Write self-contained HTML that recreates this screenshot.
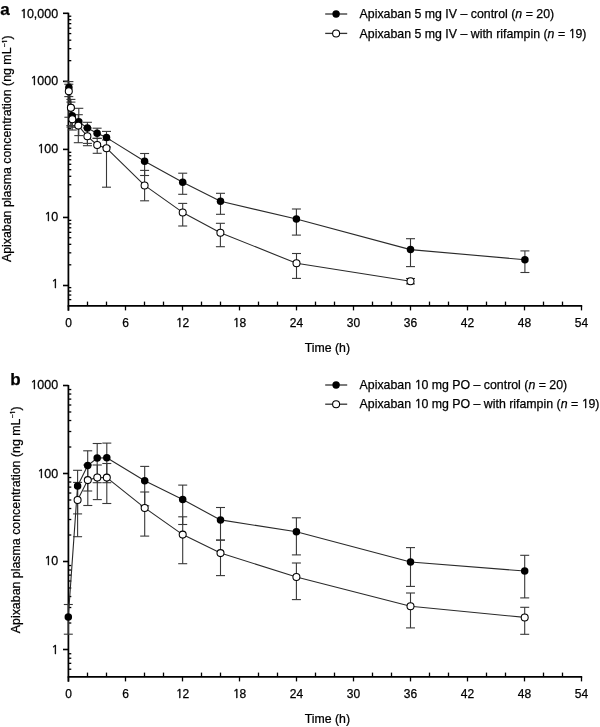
<!DOCTYPE html><html><head><meta charset="utf-8"><title>Apixaban plasma concentration</title><style>html,body{margin:0;padding:0;background:#fff}svg{display:block}</style></head><body><svg width="600" height="727" viewBox="0 0 600 727">
<style>.ax{stroke:#000;stroke-width:1.75;fill:none}.tk{stroke:#000;stroke-width:1.3;fill:none}.mj{stroke-width:1.6}.eb{stroke:#383838;stroke-width:1.1;fill:none}.ln{stroke:#2a2a2a;stroke-width:1.1;fill:none;stroke-linejoin:round}.lg{stroke:#333;stroke-width:1.3;fill:none}.mf{fill:#000;stroke:none}.mo{fill:#fff;stroke:#000;stroke-width:1.05}text{font-family:'Liberation Sans',Arial,sans-serif;fill:#000;stroke:#000;stroke-width:0.25px}.tl{font-size:12px}.lt{font-size:12.35px}.yt{font-size:12.38px}.pl{font-size:17px;font-weight:bold}.one{font-family:NanumGothic,'Liberation Sans',sans-serif;stroke-width:0.45px}</style>
<rect width="600" height="727" fill="#fff"/>
<line x1="68.4" y1="12.80" x2="68.4" y2="310.80" class="ax"/>
<line x1="67.7" y1="305.8" x2="582.20" y2="305.8" class="ax"/>
<line x1="63.0" y1="285.50" x2="68.4" y2="285.50" class="tk mj"/>
<line x1="63.0" y1="217.45" x2="68.4" y2="217.45" class="tk mj"/>
<line x1="63.0" y1="149.40" x2="68.4" y2="149.40" class="tk mj"/>
<line x1="63.0" y1="81.35" x2="68.4" y2="81.35" class="tk mj"/>
<line x1="63.0" y1="13.30" x2="68.4" y2="13.30" class="tk mj"/>
<line x1="68.4" y1="299.60" x2="71.3" y2="299.60" class="tk"/>
<line x1="68.4" y1="295.04" x2="71.3" y2="295.04" class="tk"/>
<line x1="68.4" y1="291.09" x2="71.3" y2="291.09" class="tk"/>
<line x1="68.4" y1="287.61" x2="71.3" y2="287.61" class="tk"/>
<line x1="68.4" y1="264.81" x2="71.3" y2="264.81" class="tk"/>
<line x1="68.4" y1="252.83" x2="71.3" y2="252.83" class="tk"/>
<line x1="68.4" y1="244.33" x2="71.3" y2="244.33" class="tk"/>
<line x1="68.4" y1="237.74" x2="71.3" y2="237.74" class="tk"/>
<line x1="68.4" y1="232.35" x2="71.3" y2="232.35" class="tk"/>
<line x1="68.4" y1="227.79" x2="71.3" y2="227.79" class="tk"/>
<line x1="68.4" y1="223.84" x2="71.3" y2="223.84" class="tk"/>
<line x1="68.4" y1="220.36" x2="71.3" y2="220.36" class="tk"/>
<line x1="68.4" y1="196.76" x2="71.3" y2="196.76" class="tk"/>
<line x1="68.4" y1="184.78" x2="71.3" y2="184.78" class="tk"/>
<line x1="68.4" y1="176.28" x2="71.3" y2="176.28" class="tk"/>
<line x1="68.4" y1="169.69" x2="71.3" y2="169.69" class="tk"/>
<line x1="68.4" y1="164.30" x2="71.3" y2="164.30" class="tk"/>
<line x1="68.4" y1="159.74" x2="71.3" y2="159.74" class="tk"/>
<line x1="68.4" y1="155.79" x2="71.3" y2="155.79" class="tk"/>
<line x1="68.4" y1="152.31" x2="71.3" y2="152.31" class="tk"/>
<line x1="68.4" y1="128.71" x2="71.3" y2="128.71" class="tk"/>
<line x1="68.4" y1="116.73" x2="71.3" y2="116.73" class="tk"/>
<line x1="68.4" y1="108.23" x2="71.3" y2="108.23" class="tk"/>
<line x1="68.4" y1="101.64" x2="71.3" y2="101.64" class="tk"/>
<line x1="68.4" y1="96.25" x2="71.3" y2="96.25" class="tk"/>
<line x1="68.4" y1="91.69" x2="71.3" y2="91.69" class="tk"/>
<line x1="68.4" y1="87.74" x2="71.3" y2="87.74" class="tk"/>
<line x1="68.4" y1="84.26" x2="71.3" y2="84.26" class="tk"/>
<line x1="68.4" y1="60.66" x2="71.3" y2="60.66" class="tk"/>
<line x1="68.4" y1="48.68" x2="71.3" y2="48.68" class="tk"/>
<line x1="68.4" y1="40.18" x2="71.3" y2="40.18" class="tk"/>
<line x1="68.4" y1="33.59" x2="71.3" y2="33.59" class="tk"/>
<line x1="68.4" y1="28.20" x2="71.3" y2="28.20" class="tk"/>
<line x1="68.4" y1="23.64" x2="71.3" y2="23.64" class="tk"/>
<line x1="68.4" y1="19.69" x2="71.3" y2="19.69" class="tk"/>
<line x1="68.4" y1="16.21" x2="71.3" y2="16.21" class="tk"/>
<text transform="translate(58.1,287.65) scale(1.04,1)" class="tl" text-anchor="end"><tspan class="one" letter-spacing="-0.60">1</tspan></text>
<text transform="translate(58.1,220.75) scale(1.04,1)" class="tl" text-anchor="end"><tspan class="one" letter-spacing="-0.60">1</tspan>0</text>
<text transform="translate(58.1,152.75) scale(1.04,1)" class="tl" text-anchor="end"><tspan class="one" letter-spacing="-0.60">1</tspan>00</text>
<text transform="translate(58.1,85.35) scale(1.04,1)" class="tl" text-anchor="end"><tspan class="one" letter-spacing="-0.60">1</tspan>000</text>
<text transform="translate(58.1,17.75) scale(1.04,1)" class="tl" text-anchor="end"><tspan class="one" letter-spacing="-0.60">1</tspan>0,000</text>
<line x1="68.50" y1="305.8" x2="68.50" y2="310.40" class="tk"/>
<text x="68.50" y="326.80" class="tl" text-anchor="middle">0</text>
<line x1="87.50" y1="301.60" x2="87.50" y2="305.8" class="tk"/>
<line x1="106.50" y1="301.60" x2="106.50" y2="305.8" class="tk"/>
<line x1="125.50" y1="305.8" x2="125.50" y2="310.40" class="tk"/>
<text x="125.50" y="326.80" class="tl" text-anchor="middle">6</text>
<line x1="144.50" y1="301.60" x2="144.50" y2="305.8" class="tk"/>
<line x1="163.50" y1="301.60" x2="163.50" y2="305.8" class="tk"/>
<line x1="182.50" y1="305.8" x2="182.50" y2="310.40" class="tk"/>
<text x="182.50" y="326.80" class="tl" text-anchor="middle"><tspan class="one" letter-spacing="-0.60">1</tspan>2</text>
<line x1="201.50" y1="301.60" x2="201.50" y2="305.8" class="tk"/>
<line x1="220.50" y1="301.60" x2="220.50" y2="305.8" class="tk"/>
<line x1="239.50" y1="305.8" x2="239.50" y2="310.40" class="tk"/>
<text x="239.50" y="326.80" class="tl" text-anchor="middle"><tspan class="one" letter-spacing="-0.60">1</tspan>8</text>
<line x1="258.50" y1="301.60" x2="258.50" y2="305.8" class="tk"/>
<line x1="277.50" y1="301.60" x2="277.50" y2="305.8" class="tk"/>
<line x1="296.50" y1="305.8" x2="296.50" y2="310.40" class="tk"/>
<text x="296.50" y="326.80" class="tl" text-anchor="middle">24</text>
<line x1="315.50" y1="301.60" x2="315.50" y2="305.8" class="tk"/>
<line x1="334.50" y1="301.60" x2="334.50" y2="305.8" class="tk"/>
<line x1="353.50" y1="305.8" x2="353.50" y2="310.40" class="tk"/>
<text x="353.50" y="326.80" class="tl" text-anchor="middle">30</text>
<line x1="372.50" y1="301.60" x2="372.50" y2="305.8" class="tk"/>
<line x1="391.50" y1="301.60" x2="391.50" y2="305.8" class="tk"/>
<line x1="410.50" y1="305.8" x2="410.50" y2="310.40" class="tk"/>
<text x="410.50" y="326.80" class="tl" text-anchor="middle">36</text>
<line x1="429.50" y1="301.60" x2="429.50" y2="305.8" class="tk"/>
<line x1="448.50" y1="301.60" x2="448.50" y2="305.8" class="tk"/>
<line x1="467.50" y1="305.8" x2="467.50" y2="310.40" class="tk"/>
<text x="467.50" y="326.80" class="tl" text-anchor="middle">42</text>
<line x1="486.50" y1="301.60" x2="486.50" y2="305.8" class="tk"/>
<line x1="505.50" y1="301.60" x2="505.50" y2="305.8" class="tk"/>
<line x1="524.50" y1="305.8" x2="524.50" y2="310.40" class="tk"/>
<text x="524.50" y="326.80" class="tl" text-anchor="middle">48</text>
<line x1="543.50" y1="301.60" x2="543.50" y2="305.8" class="tk"/>
<line x1="562.50" y1="301.60" x2="562.50" y2="305.8" class="tk"/>
<line x1="581.50" y1="305.8" x2="581.50" y2="310.40" class="tk"/>
<text x="581.50" y="326.80" class="tl" text-anchor="middle">54</text>
<text transform="translate(327.4,351.80) scale(1.025,1)" class="tl" text-anchor="middle">Time (h)</text>
<line x1="68.90" y1="81.60" x2="68.90" y2="87.60" class="eb"/>
<line x1="64.40" y1="81.60" x2="73.40" y2="81.60" class="eb"/>
<line x1="68.90" y1="87.60" x2="68.90" y2="117.25" class="eb"/>
<line x1="64.40" y1="117.25" x2="73.40" y2="117.25" class="eb"/>
<line x1="70.90" y1="99.40" x2="70.90" y2="107.80" class="eb"/>
<line x1="66.40" y1="99.40" x2="75.40" y2="99.40" class="eb"/>
<line x1="70.90" y1="107.80" x2="70.90" y2="127.00" class="eb"/>
<line x1="66.40" y1="127.00" x2="75.40" y2="127.00" class="eb"/>
<line x1="72.20" y1="115.80" x2="72.20" y2="130.00" class="eb"/>
<line x1="67.70" y1="130.00" x2="76.70" y2="130.00" class="eb"/>
<line x1="78.80" y1="108.30" x2="78.80" y2="121.70" class="eb"/>
<line x1="74.30" y1="108.30" x2="83.30" y2="108.30" class="eb"/>
<line x1="78.80" y1="121.70" x2="78.80" y2="135.60" class="eb"/>
<line x1="74.30" y1="135.60" x2="83.30" y2="135.60" class="eb"/>
<line x1="87.40" y1="122.30" x2="87.40" y2="128.10" class="eb"/>
<line x1="82.90" y1="122.30" x2="91.90" y2="122.30" class="eb"/>
<line x1="87.40" y1="128.10" x2="87.40" y2="143.40" class="eb"/>
<line x1="82.90" y1="143.40" x2="91.90" y2="143.40" class="eb"/>
<line x1="97.10" y1="128.20" x2="97.10" y2="133.30" class="eb"/>
<line x1="92.60" y1="128.20" x2="101.60" y2="128.20" class="eb"/>
<line x1="97.10" y1="133.30" x2="97.10" y2="138.40" class="eb"/>
<line x1="92.60" y1="138.40" x2="101.60" y2="138.40" class="eb"/>
<line x1="106.50" y1="131.40" x2="106.50" y2="137.60" class="eb"/>
<line x1="102.00" y1="131.40" x2="111.00" y2="131.40" class="eb"/>
<line x1="106.50" y1="137.60" x2="106.50" y2="147.00" class="eb"/>
<line x1="102.00" y1="147.00" x2="111.00" y2="147.00" class="eb"/>
<line x1="144.60" y1="153.50" x2="144.60" y2="161.20" class="eb"/>
<line x1="140.10" y1="153.50" x2="149.10" y2="153.50" class="eb"/>
<line x1="144.60" y1="161.20" x2="144.60" y2="175.50" class="eb"/>
<line x1="140.10" y1="175.50" x2="149.10" y2="175.50" class="eb"/>
<line x1="182.70" y1="173.20" x2="182.70" y2="182.30" class="eb"/>
<line x1="178.20" y1="173.20" x2="187.20" y2="173.20" class="eb"/>
<line x1="182.70" y1="182.30" x2="182.70" y2="194.30" class="eb"/>
<line x1="178.20" y1="194.30" x2="187.20" y2="194.30" class="eb"/>
<line x1="220.50" y1="193.30" x2="220.50" y2="201.30" class="eb"/>
<line x1="216.00" y1="193.30" x2="225.00" y2="193.30" class="eb"/>
<line x1="220.50" y1="201.30" x2="220.50" y2="214.30" class="eb"/>
<line x1="216.00" y1="214.30" x2="225.00" y2="214.30" class="eb"/>
<line x1="296.40" y1="209.00" x2="296.40" y2="219.00" class="eb"/>
<line x1="291.90" y1="209.00" x2="300.90" y2="209.00" class="eb"/>
<line x1="296.40" y1="219.00" x2="296.40" y2="235.10" class="eb"/>
<line x1="291.90" y1="235.10" x2="300.90" y2="235.10" class="eb"/>
<line x1="410.50" y1="238.70" x2="410.50" y2="249.60" class="eb"/>
<line x1="406.00" y1="238.70" x2="415.00" y2="238.70" class="eb"/>
<line x1="410.50" y1="249.60" x2="410.50" y2="266.60" class="eb"/>
<line x1="406.00" y1="266.60" x2="415.00" y2="266.60" class="eb"/>
<line x1="524.90" y1="250.90" x2="524.90" y2="259.70" class="eb"/>
<line x1="520.40" y1="250.90" x2="529.40" y2="250.90" class="eb"/>
<line x1="524.90" y1="259.70" x2="524.90" y2="272.50" class="eb"/>
<line x1="520.40" y1="272.50" x2="529.40" y2="272.50" class="eb"/>
<line x1="68.80" y1="84.25" x2="68.80" y2="91.30" class="eb"/>
<line x1="64.30" y1="84.25" x2="73.30" y2="84.25" class="eb"/>
<line x1="68.80" y1="91.30" x2="68.80" y2="96.60" class="eb"/>
<line x1="64.30" y1="96.60" x2="73.30" y2="96.60" class="eb"/>
<line x1="70.90" y1="102.10" x2="70.90" y2="107.80" class="eb"/>
<line x1="66.40" y1="102.10" x2="75.40" y2="102.10" class="eb"/>
<line x1="70.90" y1="107.80" x2="70.90" y2="125.50" class="eb"/>
<line x1="66.40" y1="125.50" x2="75.40" y2="125.50" class="eb"/>
<line x1="72.30" y1="119.20" x2="72.30" y2="127.00" class="eb"/>
<line x1="67.80" y1="127.00" x2="76.80" y2="127.00" class="eb"/>
<line x1="78.30" y1="114.70" x2="78.30" y2="125.60" class="eb"/>
<line x1="73.80" y1="114.70" x2="82.80" y2="114.70" class="eb"/>
<line x1="78.30" y1="125.60" x2="78.30" y2="142.70" class="eb"/>
<line x1="73.80" y1="142.70" x2="82.80" y2="142.70" class="eb"/>
<line x1="87.40" y1="128.00" x2="87.40" y2="136.30" class="eb"/>
<line x1="82.90" y1="128.00" x2="91.90" y2="128.00" class="eb"/>
<line x1="87.40" y1="136.30" x2="87.40" y2="145.70" class="eb"/>
<line x1="82.90" y1="145.70" x2="91.90" y2="145.70" class="eb"/>
<line x1="97.20" y1="138.30" x2="97.20" y2="145.00" class="eb"/>
<line x1="92.70" y1="138.30" x2="101.70" y2="138.30" class="eb"/>
<line x1="97.20" y1="145.00" x2="97.20" y2="153.30" class="eb"/>
<line x1="92.70" y1="153.30" x2="101.70" y2="153.30" class="eb"/>
<line x1="106.50" y1="140.00" x2="106.50" y2="148.20" class="eb"/>
<line x1="102.00" y1="140.00" x2="111.00" y2="140.00" class="eb"/>
<line x1="106.50" y1="148.20" x2="106.50" y2="187.20" class="eb"/>
<line x1="102.00" y1="187.20" x2="111.00" y2="187.20" class="eb"/>
<line x1="144.60" y1="170.40" x2="144.60" y2="185.40" class="eb"/>
<line x1="140.10" y1="170.40" x2="149.10" y2="170.40" class="eb"/>
<line x1="144.60" y1="185.40" x2="144.60" y2="200.80" class="eb"/>
<line x1="140.10" y1="200.80" x2="149.10" y2="200.80" class="eb"/>
<line x1="182.70" y1="203.40" x2="182.70" y2="212.40" class="eb"/>
<line x1="178.20" y1="203.40" x2="187.20" y2="203.40" class="eb"/>
<line x1="182.70" y1="212.40" x2="182.70" y2="226.00" class="eb"/>
<line x1="178.20" y1="226.00" x2="187.20" y2="226.00" class="eb"/>
<line x1="220.40" y1="223.30" x2="220.40" y2="232.70" class="eb"/>
<line x1="215.90" y1="223.30" x2="224.90" y2="223.30" class="eb"/>
<line x1="220.40" y1="232.70" x2="220.40" y2="246.70" class="eb"/>
<line x1="215.90" y1="246.70" x2="224.90" y2="246.70" class="eb"/>
<line x1="296.50" y1="253.50" x2="296.50" y2="263.30" class="eb"/>
<line x1="292.00" y1="253.50" x2="301.00" y2="253.50" class="eb"/>
<line x1="296.50" y1="263.30" x2="296.50" y2="278.40" class="eb"/>
<line x1="292.00" y1="278.40" x2="301.00" y2="278.40" class="eb"/>
<line x1="410.50" y1="278.50" x2="410.50" y2="281.20" class="eb"/>
<line x1="406.00" y1="278.50" x2="415.00" y2="278.50" class="eb"/>
<line x1="410.50" y1="281.20" x2="410.50" y2="283.90" class="eb"/>
<line x1="406.00" y1="283.90" x2="415.00" y2="283.90" class="eb"/>
<polyline points="68.90,87.60 70.90,107.80 72.20,115.80 78.80,121.70 87.40,128.10 97.10,133.30 106.50,137.60 144.60,161.20 182.70,182.30 220.50,201.30 296.40,219.00 410.50,249.60 524.90,259.70" class="ln"/>
<polyline points="68.80,91.30 70.90,107.80 72.30,119.20 78.30,125.60 87.40,136.30 97.20,145.00 106.50,148.20 144.60,185.40 182.70,212.40 220.40,232.70 296.50,263.30 410.50,281.20" class="ln"/>
<circle cx="68.90" cy="87.60" r="3.75" class="mf"/>
<circle cx="70.90" cy="107.80" r="3.75" class="mf"/>
<circle cx="72.20" cy="115.80" r="3.75" class="mf"/>
<circle cx="78.80" cy="121.70" r="3.75" class="mf"/>
<circle cx="87.40" cy="128.10" r="3.75" class="mf"/>
<circle cx="97.10" cy="133.30" r="3.75" class="mf"/>
<circle cx="106.50" cy="137.60" r="3.75" class="mf"/>
<circle cx="144.60" cy="161.20" r="3.75" class="mf"/>
<circle cx="182.70" cy="182.30" r="3.75" class="mf"/>
<circle cx="220.50" cy="201.30" r="3.75" class="mf"/>
<circle cx="296.40" cy="219.00" r="3.75" class="mf"/>
<circle cx="410.50" cy="249.60" r="3.75" class="mf"/>
<circle cx="524.90" cy="259.70" r="3.75" class="mf"/>
<circle cx="68.80" cy="91.30" r="3.5" class="mo"/>
<circle cx="70.90" cy="107.80" r="3.5" class="mo"/>
<circle cx="72.30" cy="119.20" r="3.5" class="mo"/>
<circle cx="78.30" cy="125.60" r="3.5" class="mo"/>
<circle cx="87.40" cy="136.30" r="3.5" class="mo"/>
<circle cx="97.20" cy="145.00" r="3.5" class="mo"/>
<circle cx="106.50" cy="148.20" r="3.5" class="mo"/>
<circle cx="144.60" cy="185.40" r="3.5" class="mo"/>
<circle cx="182.70" cy="212.40" r="3.5" class="mo"/>
<circle cx="220.40" cy="232.70" r="3.5" class="mo"/>
<circle cx="296.50" cy="263.30" r="3.5" class="mo"/>
<circle cx="410.50" cy="281.20" r="3.5" class="mo"/>
<text x="0.3" y="14.8" class="pl">a</text>
<text transform="translate(11.2,262.1) rotate(-90)" class="yt">Apixaban plasma concentration (ng mL<tspan font-size="7px" dy="-4.3">−<tspan class="one" letter-spacing="-0.35">1</tspan></tspan><tspan dy="4.3">)</tspan></text>
<line x1="325.2" y1="14.0" x2="347.2" y2="14.0" class="lg"/>
<circle cx="336.1" cy="14.0" r="3.7" class="mf"/>
<text x="359.6" y="18.10" class="lt">Apixaban 5 mg IV – control (<tspan font-style="italic">n</tspan> = 20)</text>
<line x1="325.2" y1="33.4" x2="347.2" y2="33.4" class="lg"/>
<circle cx="336.1" cy="33.4" r="3.5" class="mo"/>
<text x="359.6" y="37.50" class="lt">Apixaban 5 mg IV – with rifampin (<tspan font-style="italic">n</tspan> = <tspan class="one" letter-spacing="-0.62">1</tspan>9)</text>
<line x1="68.4" y1="384.90" x2="68.4" y2="681.80" class="ax"/>
<line x1="67.7" y1="676.8" x2="582.20" y2="676.8" class="ax"/>
<line x1="63.0" y1="649.50" x2="68.4" y2="649.50" class="tk mj"/>
<line x1="63.0" y1="561.50" x2="68.4" y2="561.50" class="tk mj"/>
<line x1="63.0" y1="473.50" x2="68.4" y2="473.50" class="tk mj"/>
<line x1="63.0" y1="385.50" x2="68.4" y2="385.50" class="tk mj"/>
<line x1="68.4" y1="669.22" x2="71.3" y2="669.22" class="tk"/>
<line x1="68.4" y1="663.33" x2="71.3" y2="663.33" class="tk"/>
<line x1="68.4" y1="658.23" x2="71.3" y2="658.23" class="tk"/>
<line x1="68.4" y1="653.73" x2="71.3" y2="653.73" class="tk"/>
<line x1="68.4" y1="623.01" x2="71.3" y2="623.01" class="tk"/>
<line x1="68.4" y1="607.51" x2="71.3" y2="607.51" class="tk"/>
<line x1="68.4" y1="596.52" x2="71.3" y2="596.52" class="tk"/>
<line x1="68.4" y1="587.99" x2="71.3" y2="587.99" class="tk"/>
<line x1="68.4" y1="581.02" x2="71.3" y2="581.02" class="tk"/>
<line x1="68.4" y1="575.13" x2="71.3" y2="575.13" class="tk"/>
<line x1="68.4" y1="570.03" x2="71.3" y2="570.03" class="tk"/>
<line x1="68.4" y1="565.53" x2="71.3" y2="565.53" class="tk"/>
<line x1="68.4" y1="535.01" x2="71.3" y2="535.01" class="tk"/>
<line x1="68.4" y1="519.51" x2="71.3" y2="519.51" class="tk"/>
<line x1="68.4" y1="508.52" x2="71.3" y2="508.52" class="tk"/>
<line x1="68.4" y1="499.99" x2="71.3" y2="499.99" class="tk"/>
<line x1="68.4" y1="493.02" x2="71.3" y2="493.02" class="tk"/>
<line x1="68.4" y1="487.13" x2="71.3" y2="487.13" class="tk"/>
<line x1="68.4" y1="482.03" x2="71.3" y2="482.03" class="tk"/>
<line x1="68.4" y1="477.53" x2="71.3" y2="477.53" class="tk"/>
<line x1="68.4" y1="447.01" x2="71.3" y2="447.01" class="tk"/>
<line x1="68.4" y1="431.51" x2="71.3" y2="431.51" class="tk"/>
<line x1="68.4" y1="420.52" x2="71.3" y2="420.52" class="tk"/>
<line x1="68.4" y1="411.99" x2="71.3" y2="411.99" class="tk"/>
<line x1="68.4" y1="405.02" x2="71.3" y2="405.02" class="tk"/>
<line x1="68.4" y1="399.13" x2="71.3" y2="399.13" class="tk"/>
<line x1="68.4" y1="394.03" x2="71.3" y2="394.03" class="tk"/>
<line x1="68.4" y1="389.53" x2="71.3" y2="389.53" class="tk"/>
<text transform="translate(58.1,653.85) scale(1.04,1)" class="tl" text-anchor="end"><tspan class="one" letter-spacing="-0.60">1</tspan></text>
<text transform="translate(58.1,565.45) scale(1.04,1)" class="tl" text-anchor="end"><tspan class="one" letter-spacing="-0.60">1</tspan>0</text>
<text transform="translate(58.1,477.85) scale(1.04,1)" class="tl" text-anchor="end"><tspan class="one" letter-spacing="-0.60">1</tspan>00</text>
<text transform="translate(58.1,389.25) scale(1.04,1)" class="tl" text-anchor="end"><tspan class="one" letter-spacing="-0.60">1</tspan>000</text>
<line x1="68.50" y1="676.8" x2="68.50" y2="681.40" class="tk"/>
<text x="68.50" y="697.80" class="tl" text-anchor="middle">0</text>
<line x1="87.50" y1="672.60" x2="87.50" y2="676.8" class="tk"/>
<line x1="106.50" y1="672.60" x2="106.50" y2="676.8" class="tk"/>
<line x1="125.50" y1="676.8" x2="125.50" y2="681.40" class="tk"/>
<text x="125.50" y="697.80" class="tl" text-anchor="middle">6</text>
<line x1="144.50" y1="672.60" x2="144.50" y2="676.8" class="tk"/>
<line x1="163.50" y1="672.60" x2="163.50" y2="676.8" class="tk"/>
<line x1="182.50" y1="676.8" x2="182.50" y2="681.40" class="tk"/>
<text x="182.50" y="697.80" class="tl" text-anchor="middle"><tspan class="one" letter-spacing="-0.60">1</tspan>2</text>
<line x1="201.50" y1="672.60" x2="201.50" y2="676.8" class="tk"/>
<line x1="220.50" y1="672.60" x2="220.50" y2="676.8" class="tk"/>
<line x1="239.50" y1="676.8" x2="239.50" y2="681.40" class="tk"/>
<text x="239.50" y="697.80" class="tl" text-anchor="middle"><tspan class="one" letter-spacing="-0.60">1</tspan>8</text>
<line x1="258.50" y1="672.60" x2="258.50" y2="676.8" class="tk"/>
<line x1="277.50" y1="672.60" x2="277.50" y2="676.8" class="tk"/>
<line x1="296.50" y1="676.8" x2="296.50" y2="681.40" class="tk"/>
<text x="296.50" y="697.80" class="tl" text-anchor="middle">24</text>
<line x1="315.50" y1="672.60" x2="315.50" y2="676.8" class="tk"/>
<line x1="334.50" y1="672.60" x2="334.50" y2="676.8" class="tk"/>
<line x1="353.50" y1="676.8" x2="353.50" y2="681.40" class="tk"/>
<text x="353.50" y="697.80" class="tl" text-anchor="middle">30</text>
<line x1="372.50" y1="672.60" x2="372.50" y2="676.8" class="tk"/>
<line x1="391.50" y1="672.60" x2="391.50" y2="676.8" class="tk"/>
<line x1="410.50" y1="676.8" x2="410.50" y2="681.40" class="tk"/>
<text x="410.50" y="697.80" class="tl" text-anchor="middle">36</text>
<line x1="429.50" y1="672.60" x2="429.50" y2="676.8" class="tk"/>
<line x1="448.50" y1="672.60" x2="448.50" y2="676.8" class="tk"/>
<line x1="467.50" y1="676.8" x2="467.50" y2="681.40" class="tk"/>
<text x="467.50" y="697.80" class="tl" text-anchor="middle">42</text>
<line x1="486.50" y1="672.60" x2="486.50" y2="676.8" class="tk"/>
<line x1="505.50" y1="672.60" x2="505.50" y2="676.8" class="tk"/>
<line x1="524.50" y1="676.8" x2="524.50" y2="681.40" class="tk"/>
<text x="524.50" y="697.80" class="tl" text-anchor="middle">48</text>
<line x1="543.50" y1="672.60" x2="543.50" y2="676.8" class="tk"/>
<line x1="562.50" y1="672.60" x2="562.50" y2="676.8" class="tk"/>
<line x1="581.50" y1="676.8" x2="581.50" y2="681.40" class="tk"/>
<text x="581.50" y="697.80" class="tl" text-anchor="middle">54</text>
<text transform="translate(327.4,722.80) scale(1.025,1)" class="tl" text-anchor="middle">Time (h)</text>
<line x1="68.30" y1="604.50" x2="68.30" y2="616.90" class="eb"/>
<line x1="63.80" y1="604.50" x2="72.80" y2="604.50" class="eb"/>
<line x1="68.30" y1="616.90" x2="68.30" y2="634.20" class="eb"/>
<line x1="63.80" y1="634.20" x2="72.80" y2="634.20" class="eb"/>
<line x1="77.60" y1="470.30" x2="77.60" y2="485.90" class="eb"/>
<line x1="73.10" y1="470.30" x2="82.10" y2="470.30" class="eb"/>
<line x1="77.60" y1="485.90" x2="77.60" y2="513.90" class="eb"/>
<line x1="73.10" y1="513.90" x2="82.10" y2="513.90" class="eb"/>
<line x1="87.70" y1="450.80" x2="87.70" y2="465.60" class="eb"/>
<line x1="83.20" y1="450.80" x2="92.20" y2="450.80" class="eb"/>
<line x1="87.70" y1="465.60" x2="87.70" y2="491.00" class="eb"/>
<line x1="83.20" y1="491.00" x2="92.20" y2="491.00" class="eb"/>
<line x1="97.20" y1="443.50" x2="97.20" y2="458.00" class="eb"/>
<line x1="92.70" y1="443.50" x2="101.70" y2="443.50" class="eb"/>
<line x1="97.20" y1="458.00" x2="97.20" y2="482.70" class="eb"/>
<line x1="92.70" y1="482.70" x2="101.70" y2="482.70" class="eb"/>
<line x1="106.80" y1="443.10" x2="106.80" y2="457.70" class="eb"/>
<line x1="102.30" y1="443.10" x2="111.30" y2="443.10" class="eb"/>
<line x1="106.80" y1="457.70" x2="106.80" y2="482.70" class="eb"/>
<line x1="102.30" y1="482.70" x2="111.30" y2="482.70" class="eb"/>
<line x1="144.70" y1="466.40" x2="144.70" y2="480.80" class="eb"/>
<line x1="140.20" y1="466.40" x2="149.20" y2="466.40" class="eb"/>
<line x1="144.70" y1="480.80" x2="144.70" y2="505.80" class="eb"/>
<line x1="140.20" y1="505.80" x2="149.20" y2="505.80" class="eb"/>
<line x1="182.70" y1="485.10" x2="182.70" y2="499.60" class="eb"/>
<line x1="178.20" y1="485.10" x2="187.20" y2="485.10" class="eb"/>
<line x1="182.70" y1="499.60" x2="182.70" y2="524.50" class="eb"/>
<line x1="178.20" y1="524.50" x2="187.20" y2="524.50" class="eb"/>
<line x1="220.50" y1="507.50" x2="220.50" y2="519.90" class="eb"/>
<line x1="216.00" y1="507.50" x2="225.00" y2="507.50" class="eb"/>
<line x1="220.50" y1="519.90" x2="220.50" y2="540.10" class="eb"/>
<line x1="216.00" y1="540.10" x2="225.00" y2="540.10" class="eb"/>
<line x1="296.40" y1="517.80" x2="296.40" y2="531.80" class="eb"/>
<line x1="291.90" y1="517.80" x2="300.90" y2="517.80" class="eb"/>
<line x1="296.40" y1="531.80" x2="296.40" y2="554.90" class="eb"/>
<line x1="291.90" y1="554.90" x2="300.90" y2="554.90" class="eb"/>
<line x1="410.50" y1="547.60" x2="410.50" y2="562.00" class="eb"/>
<line x1="406.00" y1="547.60" x2="415.00" y2="547.60" class="eb"/>
<line x1="410.50" y1="562.00" x2="410.50" y2="586.40" class="eb"/>
<line x1="406.00" y1="586.40" x2="415.00" y2="586.40" class="eb"/>
<line x1="524.70" y1="555.30" x2="524.70" y2="571.00" class="eb"/>
<line x1="520.20" y1="555.30" x2="529.20" y2="555.30" class="eb"/>
<line x1="524.70" y1="571.00" x2="524.70" y2="597.90" class="eb"/>
<line x1="520.20" y1="597.90" x2="529.20" y2="597.90" class="eb"/>
<line x1="77.60" y1="482.40" x2="77.60" y2="499.90" class="eb"/>
<line x1="73.10" y1="482.40" x2="82.10" y2="482.40" class="eb"/>
<line x1="77.60" y1="499.90" x2="77.60" y2="536.70" class="eb"/>
<line x1="73.10" y1="536.70" x2="82.10" y2="536.70" class="eb"/>
<line x1="87.80" y1="465.00" x2="87.80" y2="480.10" class="eb"/>
<line x1="83.30" y1="465.00" x2="92.30" y2="465.00" class="eb"/>
<line x1="87.80" y1="480.10" x2="87.80" y2="505.50" class="eb"/>
<line x1="83.30" y1="505.50" x2="92.30" y2="505.50" class="eb"/>
<line x1="97.30" y1="465.00" x2="97.30" y2="477.50" class="eb"/>
<line x1="92.80" y1="465.00" x2="101.80" y2="465.00" class="eb"/>
<line x1="97.30" y1="477.50" x2="97.30" y2="499.60" class="eb"/>
<line x1="92.80" y1="499.60" x2="101.80" y2="499.60" class="eb"/>
<line x1="106.80" y1="463.50" x2="106.80" y2="477.60" class="eb"/>
<line x1="102.30" y1="463.50" x2="111.30" y2="463.50" class="eb"/>
<line x1="106.80" y1="477.60" x2="106.80" y2="503.50" class="eb"/>
<line x1="102.30" y1="503.50" x2="111.30" y2="503.50" class="eb"/>
<line x1="144.70" y1="492.00" x2="144.70" y2="507.90" class="eb"/>
<line x1="140.20" y1="492.00" x2="149.20" y2="492.00" class="eb"/>
<line x1="144.70" y1="507.90" x2="144.70" y2="536.10" class="eb"/>
<line x1="140.20" y1="536.10" x2="149.20" y2="536.10" class="eb"/>
<line x1="182.70" y1="516.80" x2="182.70" y2="534.60" class="eb"/>
<line x1="178.20" y1="516.80" x2="187.20" y2="516.80" class="eb"/>
<line x1="182.70" y1="534.60" x2="182.70" y2="563.70" class="eb"/>
<line x1="178.20" y1="563.70" x2="187.20" y2="563.70" class="eb"/>
<line x1="220.50" y1="540.10" x2="220.50" y2="553.10" class="eb"/>
<line x1="216.00" y1="540.10" x2="225.00" y2="540.10" class="eb"/>
<line x1="220.50" y1="553.10" x2="220.50" y2="575.60" class="eb"/>
<line x1="216.00" y1="575.60" x2="225.00" y2="575.60" class="eb"/>
<line x1="296.40" y1="563.00" x2="296.40" y2="577.00" class="eb"/>
<line x1="291.90" y1="563.00" x2="300.90" y2="563.00" class="eb"/>
<line x1="296.40" y1="577.00" x2="296.40" y2="599.60" class="eb"/>
<line x1="291.90" y1="599.60" x2="300.90" y2="599.60" class="eb"/>
<line x1="410.50" y1="593.00" x2="410.50" y2="606.30" class="eb"/>
<line x1="406.00" y1="593.00" x2="415.00" y2="593.00" class="eb"/>
<line x1="410.50" y1="606.30" x2="410.50" y2="627.90" class="eb"/>
<line x1="406.00" y1="627.90" x2="415.00" y2="627.90" class="eb"/>
<line x1="524.70" y1="607.30" x2="524.70" y2="617.40" class="eb"/>
<line x1="520.20" y1="607.30" x2="529.20" y2="607.30" class="eb"/>
<line x1="524.70" y1="617.40" x2="524.70" y2="634.30" class="eb"/>
<line x1="520.20" y1="634.30" x2="529.20" y2="634.30" class="eb"/>
<polyline points="68.30,616.90 77.60,485.90 87.70,465.60 97.20,458.00 106.80,457.70 144.70,480.80 182.70,499.60 220.50,519.90 296.40,531.80 410.50,562.00 524.70,571.00" class="ln"/>
<polyline points="77.60,499.90 87.80,480.10 97.30,477.50 106.80,477.60 144.70,507.90 182.70,534.60 220.50,553.10 296.40,577.00 410.50,606.30 524.70,617.40" class="ln"/>
<circle cx="68.30" cy="616.90" r="3.75" class="mf"/>
<circle cx="77.60" cy="485.90" r="3.75" class="mf"/>
<circle cx="87.70" cy="465.60" r="3.75" class="mf"/>
<circle cx="97.20" cy="458.00" r="3.75" class="mf"/>
<circle cx="106.80" cy="457.70" r="3.75" class="mf"/>
<circle cx="144.70" cy="480.80" r="3.75" class="mf"/>
<circle cx="182.70" cy="499.60" r="3.75" class="mf"/>
<circle cx="220.50" cy="519.90" r="3.75" class="mf"/>
<circle cx="296.40" cy="531.80" r="3.75" class="mf"/>
<circle cx="410.50" cy="562.00" r="3.75" class="mf"/>
<circle cx="524.70" cy="571.00" r="3.75" class="mf"/>
<circle cx="77.60" cy="499.90" r="3.5" class="mo"/>
<circle cx="87.80" cy="480.10" r="3.5" class="mo"/>
<circle cx="97.30" cy="477.50" r="3.5" class="mo"/>
<circle cx="106.80" cy="477.60" r="3.5" class="mo"/>
<circle cx="144.70" cy="507.90" r="3.5" class="mo"/>
<circle cx="182.70" cy="534.60" r="3.5" class="mo"/>
<circle cx="220.50" cy="553.10" r="3.5" class="mo"/>
<circle cx="296.40" cy="577.00" r="3.5" class="mo"/>
<circle cx="410.50" cy="606.30" r="3.5" class="mo"/>
<circle cx="524.70" cy="617.40" r="3.5" class="mo"/>
<text x="10.2" y="385.4" class="pl">b</text>
<text transform="translate(19.7,633.2) rotate(-90)" class="yt">Apixaban plasma concentration (ng mL<tspan font-size="7px" dy="-4.3">−<tspan class="one" letter-spacing="-0.35">1</tspan></tspan><tspan dy="4.3">)</tspan></text>
<line x1="325.2" y1="385.0" x2="347.2" y2="385.0" class="lg"/>
<circle cx="336.1" cy="385.0" r="3.7" class="mf"/>
<text x="359.6" y="389.10" class="lt">Apixaban <tspan class="one" letter-spacing="-0.62">1</tspan>0 mg PO – control (<tspan font-style="italic">n</tspan> = 20)</text>
<line x1="325.2" y1="404.2" x2="347.2" y2="404.2" class="lg"/>
<circle cx="336.1" cy="404.2" r="3.5" class="mo"/>
<text x="359.6" y="408.30" class="lt">Apixaban <tspan class="one" letter-spacing="-0.62">1</tspan>0 mg PO – with rifampin (<tspan font-style="italic">n</tspan> = <tspan class="one" letter-spacing="-0.62">1</tspan>9)</text>
</svg></body></html>
